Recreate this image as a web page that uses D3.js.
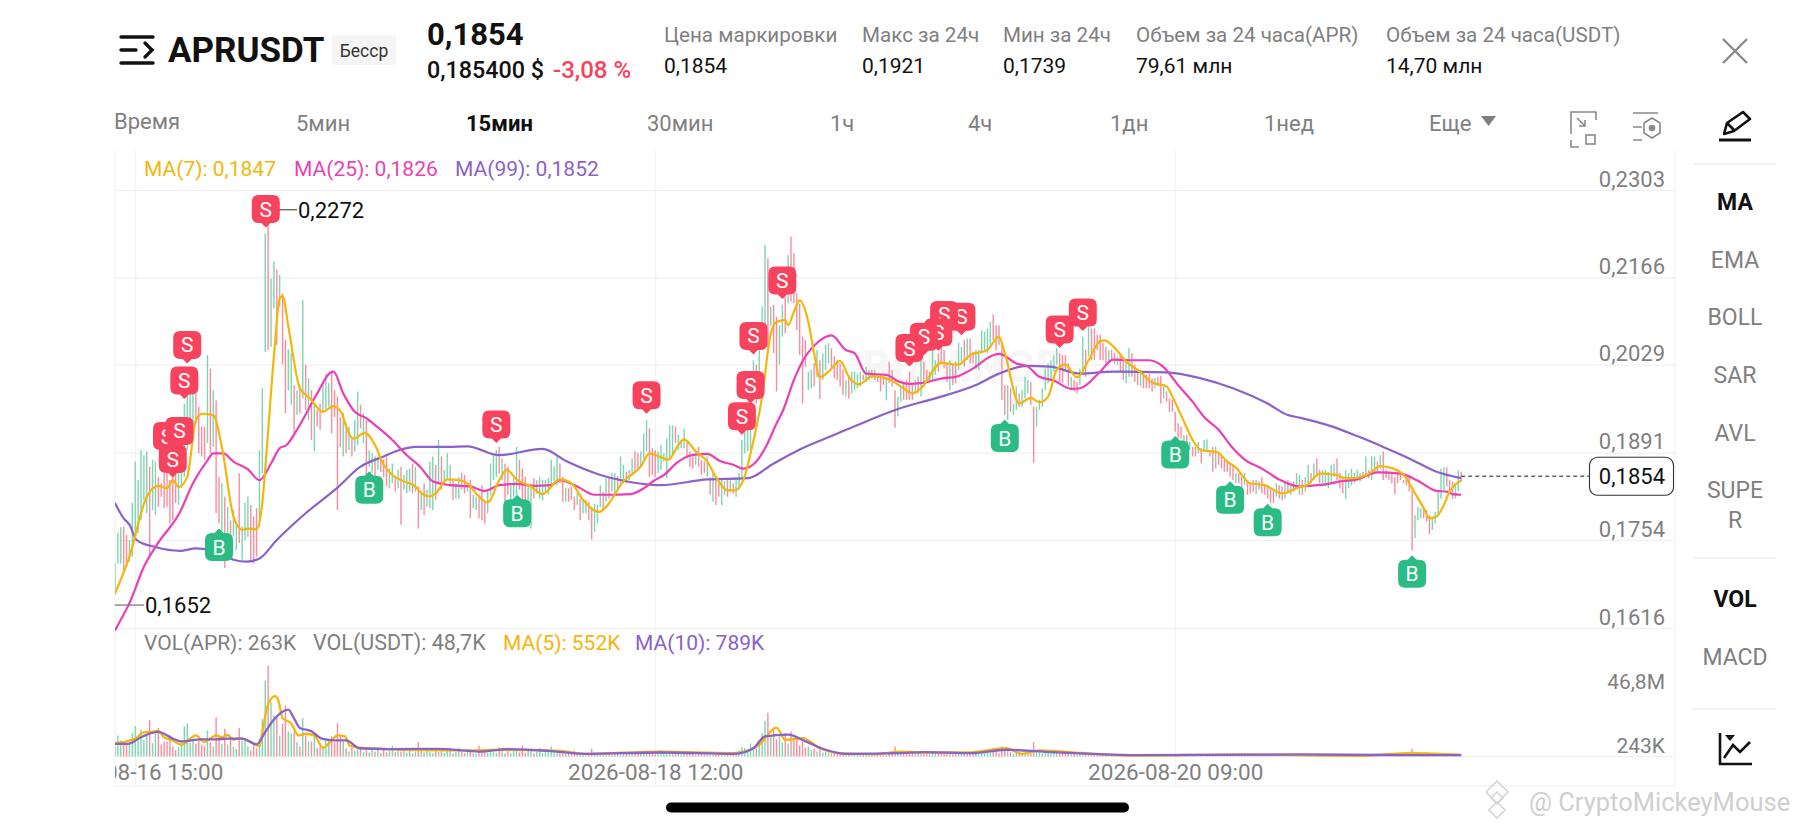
<!DOCTYPE html>
<html>
<head>
<meta charset="utf-8">
<script src="https://cdn.jsdelivr.net/npm/d3@7"></script>
<style>
html, body { margin: 0; padding: 0; background: #fff; overflow: hidden; }
svg { display: block; }
text { font-family: "Roboto", sans-serif; }
</style>
</head>
<body>
<div id="chart"></div>
<script>
// prices are in units of 0.0001, volumes in millions
const priceTicks = [2303, 2166, 2029, 1891, 1754, 1616];
const volumeTicks = [0.243, 46.8];
const volumeTickLabels = ['243K', '46,8M'];
const dateTicks = [7, 187, 367];
const dateLabels = ['2026-08-16 15:00', '2026-08-18 12:00', '2026-08-20 09:00'];

const highs = [
  1718,1765,1774,1775,1762,1754,1812,1877,1848,1895, 1887,1893,1869,1880,1877,1853,1843,1859,1874,1848,
  1853,1864,1869,1885,1968,1981,1989,1984,1984,1963, 1932,1932,2044,2023,1989,1973,1853,1843,1822,1806,
  1785,1801,1780,1859,1775,1812,1822,1809,1791,1804, 1895,1992,2235,2272,2164,2191,2178,2170,2141,2068,
  2053,2047,1997,1989,1995,2130,2029,2008,1989,1968, 1958,1968,2002,2015,2000,2018,1989,1979,1947,1953,
  1937,1932,1916,1942,1987,1966,1953,1942,1895,1890, 1885,1885,1880,1880,1885,1866,1874,1853,1864,1869,
  1856,1864,1866,1874,1869,1838,1830,1843,1833,1877, 1885,1872,1911,1885,1864,1890,1872,1848,1843,1853,
  1859,1856,1843,1848,1825,1822,1825,1840,1814,1833, 1874,1887,1895,1900,1882,1874,1869,1840,1853,1900,
  1880,1866,1853,1840,1843,1851,1848,1853,1848,1848, 1851,1880,1869,1885,1874,1853,1835,1835,1838,1822,
  1827,1819,1819,1817,1814,1806,1811,1809,1840,1830, 1851,1853,1859,1859,1854,1885,1872,1861,1864,1882,
  1893,1890,1893,1921,1942,1929,1898,1895,1893,1903, 1890,1913,1934,1934,1932,1919,1911,1929,1911,1893,
  1890,1890,1900,1880,1877,1885,1853,1859,1848,1843, 1848,1846,1848,1848,1843,1848,1859,1911,1924,1927,
  1937,2036,2029,2052,2120,2217,2196,2120,2123,2104, 2091,2123,2141,2201,2230,2204,2141,2125,2073,2068,
  2018,2021,2031,2052,2036,2047,2060,2063,2055,2042, 2036,2031,2021,2005,2013,2018,2018,2015,2018,2013,
  2026,2021,2021,2021,2013,2013,2013,2010,2034,2021, 1989,1979,1995,2002,2005,2018,2000,2005,2010,2036,
  2034,2021,2018,2052,2036,2047,2057,2052,2031,2036, 2029,2034,2063,2057,2068,2070,2070,2049,2052,2052,
  2083,2081,2086,2096,2108,2091,2091,2063,1997,1997, 1992,1968,1995,1984,1989,2010,2005,2002,1963,1963,
  1974,1992,2023,2031,2036,2044,2055,2047,2044,2044, 2031,2010,2005,2002,2023,2073,2052,2089,2086,2086,
  2076,2076,2063,2057,2052,2052,2047,2042,2044,2036, 2039,2055,2047,2029,2021,2021,2015,2013,2015,2008,
  2008,2010,2011,1995,1987,1976,1974,1955,1937,1932, 1919,1919,1908,1900,1900,1908,1898,1911,1912,1895,
  1900,1900,1890,1885,1880,1877,1874,1872,1859,1859, 1853,1859,1848,1843,1848,1848,1846,1853,1840,1838,
  1835,1830,1843,1840,1838,1846,1848,1843,1846,1859, 1856,1848,1853,1872,1859,1874,1882,1864,1864,1864,
  1861,1872,1874,1882,1859,1853,1864,1859,1866,1859, 1864,1859,1861,1885,1864,1885,1885,1877,1887,1893,
  1864,1861,1859,1853,1865,1861,1848,1851,1853,1832, 1793,1806,1804,1804,1801,1793,1791,1798,1832,1866,
  1868,1868,1848,1846,1843,1863,1861
];
const lows = [
  1668,1717,1717,1707,1712,1720,1728,1759,1765,1785, 1817,1796,1731,1801,1793,1806,1822,1804,1806,1780,
  1785,1812,1809,1835,1853,1895,1937,1932,1937,1890, 1885,1880,1906,1890,1900,1796,1780,1765,1710,1754,
  1744,1760,1738,1749,1723,1754,1759,1723,1717,1728, 1775,1859,2049,2052,2057,2117,2060,2120,2029,1953,
  1989,1966,1921,1950,1953,1976,1958,1942,1911,1893, 1932,1927,1953,1958,1963,1921,1947,1801,1900,1885,
  1890,1895,1885,1893,1903,1929,1906,1853,1869,1859, 1848,1864,1861,1853,1838,1835,1843,1830,1835,1778,
  1833,1827,1830,1827,1830,1772,1801,1793,1806,1804, 1801,1817,1843,1833,1843,1848,1838,1817,1819,1819,
  1833,1827,1830,1788,1804,1801,1788,1785,1780,1796, 1825,1848,1853,1859,1848,1814,1825,1817,1822,1825,
  1833,1817,1814,1785,1772,1819,1827,1819,1816,1827, 1825,1838,1846,1840,1843,1814,1814,1814,1817,1801,
  1809,1785,1796,1796,1785,1755,1767,1780,1806,1801, 1814,1819,1830,1827,1830,1843,1843,1843,1848,1856,
  1859,1866,1869,1882,1893,1853,1856,1853,1859,1864, 1877,1851,1880,1890,1906,1895,1898,1898,1882,1869,
  1866,1872,1869,1856,1859,1853,1825,1814,1809,1822, 1809,1825,1822,1830,1827,1822,1833,1853,1890,1893,
  1895,1989,1968,1995,2052,2089,2047,2090,2047,1987, 2029,2073,2078,2125,2128,2125,2083,2044,1968,2026,
  1989,1992,1995,2010,1975,2005,2021,2031,2023,2008, 2005,1995,1981,1979,1976,1984,1989,1992,1995,2005,
  2002,2005,2008,2005,2002,1987,1997,1973,2000,1995, 1930,1948,1971,1974,1974,1974,1974,1984,1984,1979,
  1995,2000,2002,2005,2013,2018,2031,2023,2002,1989, 1997,2000,2021,2034,2026,2036,2031,2031,2023,2021,
  2047,2052,2047,2057,2068,2052,2060,1974,1950,1942, 1955,1950,1958,1963,1963,1976,1984,1966,1875,1932,
  1958,1963,1989,2000,2005,2018,2029,2002,2000,2021, 1995,1989,1987,1984,1997,2013,2010,2042,2036,2036,
  2052,2036,2036,2031,2031,2036,2031,2029,2018,2005, 2000,2010,2010,2002,1997,1995,1992,1992,1992,1987,
  1992,1995,1968,1976,1971,1955,1955,1924,1913,1913, 1906,1903,1895,1885,1885,1890,1874,1893,1895,1885,
  1861,1866,1872,1866,1861,1861,1853,1848,1843,1843, 1835,1840,1825,1827,1830,1826,1833,1827,1825,1819,
  1812,1812,1822,1819,1816,1819,1827,1825,1830,1835, 1825,1825,1830,1838,1843,1848,1853,1843,1843,1838,
  1835,1843,1853,1848,1835,1827,1818,1835,1840,1843, 1848,1846,1851,1853,1851,1848,1859,1859,1866,1848,
  1851,1848,1843,1826,1843,1848,1843,1840,1830,1738, 1757,1785,1788,1788,1783,1763,1770,1780,1791,1819,
  1832,1838,1830,1818,1819,1830,1846
];
const candleDirs = 'gggrrggggg' + 'ggrggrrrrr' + 'rrggggggrr' + 'rrgrgrrgrg' + 'rggrgggrrr' + 'gggrggrgrr' +
  'ggrgrgrgrg' + 'rrgggrrrrg' + 'rgrggrgrgg' + 'rgrrrggrgr' + 'gggrgrgrgg' + 'grgrgggrgg' + 'rrgrggrrrg' +
  'gggrgrrggg' + 'rrrggrgggg' + 'ggggrrgrrr' + 'grggrrgggr' + 'grggrggrgg' + 'rrgggrrrgg' + 'ggggrgggrr' +
  'rgrrrgrgrr' + 'ggrgrggggg' + 'ggrgggrgrr' + 'ggrgrrrrrr' + 'ggrgrgggrr' + 'rrrgrggggr' + 'ggrgrrrgrr' +
  'rggrrrrgrg' + 'rrgggrrrrg' + 'rrggrgrrgg' + 'ggggrrrrrg' + 'rggrgggrrg' + 'gggggggrrr' + 'rgrrggrgrr' +
  'rrrrgrrgrr' + 'ggrrrgrrrr' + 'grrgrrrrrr' + 'grgrrgrggr' + 'rgrrrrrrgr' + 'rgrrrgrrrr' + 'rrgrrgrgrg' +
  'grggrgrrgg' + 'gggrrrgggg' + 'ggrgrggrgr' + 'rrrrrrrrrr' + 'gggrrrgggg' + 'grrrggr';
const volumes = [
  7.3,15.2,11.6,8.7,9.2,10.4,16.9,22,12.8,19.6, 12.1,15.2,26.6,9.7,16.5,20.6,8.7,10.9,10.9,15.2,
  7.3,4.8,6.8,11.6,21.8,23.7,9.7,12.8,9.2,11.6, 8.5,7.3,18.9,10.4,7.3,28.3,15.2,9.2,20.1,8.7,
  14.5,7.3,5.6,20.6,11.6,11.6,7.3,4.4,8,6, 12.8,27.3,55.2,66,39.4,29.8,28.6,15.2,23.7,37,
  18.2,16.9,17.7,10.4,7.3,27.8,15.2,10.9,10.9,15.2, 6,7.3,7.3,12.8,12.8,14.5,10.4,24.2,14.5,11.6,
  5.8,3.6,6.6,4.4,7.3,6.2,3.3,5.1,2.9,4.7, 3.6,6,2.6,5.2,3.1,4.3,7.8,3.2,5.4,3.5,
  4.2,2.8,5,2.2,3.6,10.5,4.4,3,6.1,3.7, 2.4,4.8,3.3,5.9,2.7,3.9,4.6,2.2,3.5,6.4,
  3.1,2.5,4.4,5.6,2.3,2,7.8,3,4.6,2.8, 5.4,3.2,2.7,6.6,4.1,2.2,3.9,2.4,5.2,6,
  3,7.8,2.9,5.2,4.4,2.4,3.4,6.1,2.6,3.8, 4.2,7.3,3.1,2.4,4.9,3,2.2,3.6,1.9,4.2,
  2.1,1.6,2.7,1.9,2.3,5.6,2.8,1.7,1.4,2.5, 1.8,2.2,1.5,2.9,2.4,1.6,3.1,2,1.7,2.6,
  2.3,3.4,1.8,4.1,2.7,3.2,2.1,1.6,2.4,4.5, 2.9,3.5,2.2,1.8,3,2.4,1.5,2.6,2,1.7,
  2.2,1.4,2.6,1.8,1.6,2.3,1.5,2.1,2.7,1.9, 1.6,2.4,2,1.3,2.2,3.4,4.8,7,6.2,5,
  9.5,7.3,5.8,12,17,26,31.7,15,21,12.5, 14.6,10.2,17,9.5,18,12,14,8,11,6.5,
  7.3,4.5,5.8,3.6,5,2.9,3.3,2.6,2.2,3.4, 2,2.7,1.8,1.5,2.4,1.9,1.6,2.2,1.4,1.7,
  1.5,2,1.3,1.8,1.6,2.1,1.4,1.2,2.9,1.8, 7.3,2.4,1.9,2.6,1.8,3.2,2.1,1.7,3.6,2.4,
  1.9,2.8,1.5,3.4,2.2,2.7,3.6,2.9,1.8,2.4, 1.7,2.1,3.5,2.6,3.1,2.4,2.9,1.9,2.3,1.6,
  3.1,2.2,2.8,3.9,4.5,3.3,2.4,7.3,5.9,4.6, 3.2,2.1,3,2.4,1.9,2.8,2,2.6,10.5,5,
  3.4,2.2,3.6,2.7,2.3,3,3.5,2.1,2.9,1.8, 2.4,1.6,1.9,1.4,2.6,3.6,2,2.8,1.7,2.2,
  1.5,1.8,1.2,1.4,1.6,1.1,1.3,0.9,1.5,1.2, 1.4,1.7,1,0.9,1.2,0.8,1,1.1,0.9,0.8,
  1,0.7,1.4,0.9,0.8,1,0.9,1.6,1.1,0.8, 1,0.7,0.9,1.2,0.8,1.1,1.3,0.9,0.7,0.8,
  1.5,1.1,0.8,0.7,1,0.9,0.8,1.1,0.7,0.9, 0.8,1,1.2,0.7,0.9,0.8,1,1.1,0.7,0.8,
  1,0.9,0.7,0.8,1.2,0.9,0.7,1,0.8,0.9, 1.1,0.7,1,0.8,0.7,1,1.3,0.8,0.7,0.9,
  0.8,0.7,1,1.2,0.9,0.7,1,0.8,0.7,0.6, 0.7,0.6,0.9,0.8,0.7,0.9,0.8,0.6,0.8,1.2,
  0.8,0.7,0.6,0.9,0.7,0.6,0.8,0.7,1.1,5.6, 1.9,1.2,0.9,0.7,1,1.3,0.8,1,1.4,1.8,
  1.3,1,0.8,1.1,0.7,0.6,0.25
];

// moving averages as [candle, value]
const ma7 = [[0,1670],[5,1728],[11,1822],[15,1839],[18,1835],[20,1848],[22,1837],[25,1853],[28,1942],[30,1952],[34,1950],[37,1900],[41,1791],[44,1770],[46,1772],[49,1771],[51,1812],[52.5,1895],[55,2042],[57,2133],[58,2137],[60,2089],[64,1992],[67.5,1976],[72,1955],[75.6,1964],[78.5,1953],[80,1932],[82.5,1913],[86.5,1922],[90,1903],[93,1872],[96,1856],[100,1846],[104,1838],[105.5,1830],[109,1822],[111,1827],[115,1849],[119,1848],[122,1843],[125,1827],[129,1813],[133,1848],[135.6,1864],[139,1849],[144,1838],[148,1826],[154,1849],[158,1843],[162,1817],[167.5,1798],[170,1806],[176,1846],[182,1869],[185,1890],[190,1882],[191.5,1880],[195,1903],[197,1912],[201,1893],[205,1877],[208,1853],[212,1832],[214.5,1832],[217.5,1848],[220,1890],[224,1979],[227,2078],[229,2096],[232,2099],[233,2091],[235,2112],[237,2130],[240,2096],[242,2047],[244,2009],[247,2018],[251,2035],[254,2010],[257.5,1998],[262,2011],[268,2006],[272,1995],[276,1984],[279,1992],[286,2032],[292,2029],[296,2044],[302,2052],[306,2073],[308,2047],[313,1968],[317,1977],[320,1970],[323,1979],[326,2021],[329,2029],[333,2009],[337,2036],[341,2066],[342.5,2067],[346.7,2052],[350,2034],[354.8,2018],[359,2001],[364,1995],[366,1979],[369.8,1942],[373,1911],[376,1895],[381.5,1892],[385,1877],[387.7,1869],[393,1843],[398,1840],[404,1827],[410,1837],[412.5,1840],[417,1858],[423,1856],[425,1852],[428.6,1851],[434,1858],[438,1870],[442.5,1866],[447,1851],[449.4,1832],[453,1804],[455,1788],[457.5,1791],[460,1809],[462,1830],[464.4,1843],[466,1847]];
const ma25 = [[0,1612],[2,1629],[5,1655],[10,1712],[14.4,1746],[22.5,1798],[27,1843],[32,1879],[34,1890],[37.5,1890],[41,1877],[46,1865],[50,1848],[54,1874],[57,1898],[59.4,1903],[63,1927],[70,1984],[74.4,2016],[75.6,2018],[79,1984],[83,1955],[87,1945],[90.6,1932],[96,1911],[101,1887],[105.6,1869],[110,1846],[116,1840],[123,1838],[128,1831],[133,1840],[139,1842],[145,1839],[151,1840],[154,1848],[160,1838],[166,1825],[170.5,1825],[178.5,1826],[183,1835],[186.5,1847],[190,1856],[195,1877],[199.5,1887],[205,1889],[209.4,1878],[214,1872],[217.5,1866],[222,1877],[225.6,1903],[228.5,1932],[231.3,1958],[235,2005],[238.2,2036],[243,2063],[248,2075],[253,2052],[256,2047],[260,2015],[267,2013],[271.6,2002],[275,1999],[279,2000],[287,2008],[291,2010],[297,2023],[303,2042],[306,2046],[312,2031],[316,2026],[320,2010],[325,2004],[331,1991],[334,1992],[341,2018],[345.5,2037],[351,2036],[358,2036],[362.8,2026],[368,1997],[373,1971],[377,1947],[382,1927],[386.6,1900],[391.4,1879],[397,1866],[403,1849],[410,1838],[413.7,1839],[420,1842],[424,1846],[430,1849],[437,1860],[445,1858],[451,1847],[457.5,1831],[461,1830],[463,1826],[466,1825]];
const ma99 = [[0,1812],[3,1788],[5,1778],[7.5,1754],[14,1743],[22.5,1737],[28,1741],[35,1736],[41,1723],[45.5,1720],[50,1725],[56,1754],[66,1796],[76.7,1835],[85,1869],[93,1885],[99,1896],[104,1900],[115,1900],[122,1901],[133,1887],[148,1897],[156.5,1877],[168,1856],[176,1847],[188.6,1840],[205,1849],[219,1851],[228,1874],[237,1896],[249,1919],[260,1940],[272,1961],[283,1975],[298,1997],[306,2015],[315.5,2027],[323.6,2026],[334,2015],[345.6,2018],[364,2017],[375.6,2008],[387,1992],[399,1968],[406,1950],[410,1946],[420.6,1933],[430,1917],[439,1900],[448,1882],[457.5,1861],[466,1851]];
const volMa5 = [[0,9.7],[4,11],[7,12.9],[10,17.5],[12,17.8],[15,18.5],[17,14],[20,11.7],[23,8.5],[26,12.9],[28,15.3],[31,10.5],[35,15.3],[37,14],[39,15.6],[41,12],[43,13.4],[46,11.7],[50,7.5],[51,17.8],[53,38],[55.4,43.8],[56.5,41],[58,28],[61,24],[63.5,15.3],[66,16.5],[69,15.3],[72,6.3],[75,11.7],[77,15.3],[79.6,14.6],[81.3,7.8],[86.6,6],[118,4.4],[136,4.9],[154,4.1],[162.6,1.9],[189,3.6],[214,2.4],[222.6,7.8],[229,21],[232,12],[238,13.4],[244,6],[251,2.4],[263,1.7],[272,3.6],[280,2.9],[295,2.9],[308.5,6],[314,1.9],[320,4.4],[336,2.4],[350,0.7],[390,1.5],[430,0.5],[449,2.4],[466,1.2]];
const volMa10 = [[0,9.2],[4.6,9.2],[9,14],[15,17.8],[20,13],[23,11],[30,12.4],[35,12.4],[39,13],[44,13],[49,8.8],[52,17.8],[55,26.8],[60,34],[62,27.5],[64,20.7],[68,18.3],[71.5,13],[76,11.7],[80,11.7],[84.7,6],[94,5.4],[112,5.6],[126,3.6],[136,5.4],[150,4.1],[162.6,1.9],[189,2.9],[214,1.9],[221,6],[225,14.6],[233,15.8],[239,11],[246,4.9],[253,1.9],[272,2.4],[280,3.2],[297,2.4],[308.5,4.9],[322,3.4],[338,1.9],[354,1],[410,1.5],[447,1],[466,1]];

// buy and sell flags: candle and the price the tip points at
const sellFlags = [[25,2031],[24,1975],[20,1852],[18,1888],[22.3,1896],[52.2,2244],[132,1906],[184,1952],[217,1919],[220,1968],[221,2045],[231,2132],[293,2075],[287,2078],[285,2051],[280,2044],[275,2026],[327,2055],[335,2082]];
const buyFlags = [[36,1772],[88,1862],[139.2,1825],[308,1943],[367,1917],[386,1846],[399,1811],[449,1730]];

const lastPrice = 1854;
const highLabel = { candle: 52.2, price: 2272, text: '0,2272' };
const lowLabel = { price: 1652, text: '0,1652' };

const statLabels = ['Цена маркировки', 'Макс за 24ч', 'Мин за 24ч', 'Объем за 24 часа(APR)', 'Объем за 24 часа(USDT)'];
const statValues = ['0,1854', '0,1921', '0,1739', '79,61 млн', '14,70 млн'];
const statX = [664, 862, 1003, 1136, 1386];
const intervals = ['Время', '5мин', '15мин', '30мин', '1ч', '4ч', '1дн', '1нед', 'Еще'];
const intervalX = [114, 296, 466, 647, 830, 968, 1110, 1264, 1429];
const sideItems = ['MA', 'EMA', 'BOLL', 'SAR', 'AVL', 'SUPE', 'R', 'VOL', 'MACD'];
const sideY = [210, 268, 325, 383, 441, 498, 528, 607, 665];

const width = 1795, height = 828;
const left = 115, right = 1675;
const GREEN = '#7fd4b1', RED = '#f98d9e';
const YELLOW = '#f3b60a', PINK = '#eb3fb4', PURPLE = '#8a62c8';
const FLAG_RED = '#f7435d', FLAG_GREEN = '#2bbc86';

const svg = d3.select('#chart').append('svg')
    .attr('width', width)
    .attr('height', height);

const x = d3.scaleLinear().domain([0, 180]).range([left, left + 520]);
const y = d3.scaleLinear().domain([1616, 2303]).range([628, 190]);
const yVol = d3.scaleLinear().domain([0, 46.8]).range([756.5, 692]);

svg.append('defs').append('clipPath').attr('id', 'plot')
    .append('rect').attr('x', left).attr('y', 150).attr('width', right - left).attr('height', 640);

const gridColor = '#f0f0f0';
const tickColor = '#7f7f7f';

// frame
svg.append('g').selectAll('line')
    .data([left, right])
    .join('line')
    .attr('x1', d => d).attr('x2', d => d)
    .attr('y1', 150).attr('y2', 786)
    .attr('stroke', gridColor);
svg.append('line').attr('x1', left).attr('x2', right).attr('y1', 786).attr('y2', 786).attr('stroke', gridColor);

// price axis, labels sit above the grid lines
const priceAxis = svg.append('g')
    .attr('transform', `translate(${right},0)`)
    .call(d3.axisLeft(y).tickValues(priceTicks).tickSize(right - left).tickPadding(10)
        .tickFormat(d => '0,' + d));
priceAxis.select('.domain').remove();
priceAxis.selectAll('line').attr('stroke', gridColor).attr('stroke-width', 1.2);
priceAxis.selectAll('text')
    .attr('x', -10).attr('y', -4).attr('dy', 0)
    .attr('font-size', 22).attr('fill', tickColor)
    .style('font-family', 'Roboto');

const volAxis = svg.append('g')
    .attr('transform', `translate(${right},0)`)
    .call(d3.axisLeft(yVol).tickValues(volumeTicks).tickSize(0)
        .tickFormat((d, i) => volumeTickLabels[i]));
volAxis.select('.domain').remove();
volAxis.selectAll('text')
    .attr('x', -10).attr('y', -4).attr('dy', 0)
    .attr('font-size', 21).attr('fill', tickColor)
    .style('font-family', 'Roboto');
svg.append('line').attr('x1', left).attr('x2', right).attr('y1', 756.5).attr('y2', 756.5).attr('stroke', gridColor);

// date axis with the vertical grid
const dateAxis = svg.append('g')
    .attr('transform', 'translate(0,786)')
    .attr('clip-path', 'url(#dateClip)')
    .call(d3.axisBottom(x).tickValues(dateTicks).tickSize(-636).tickPadding(0)
        .tickFormat((d, i) => dateLabels[i]));
dateAxis.select('.domain').remove();
dateAxis.selectAll('line').attr('stroke', gridColor);
dateAxis.selectAll('text')
    .attr('y', -6).attr('dy', 0)
    .attr('font-size', 22.5).attr('fill', tickColor)
    .style('font-family', 'Roboto');
svg.select('defs').append('clipPath').attr('id', 'dateClip')
    .append('rect').attr('x', left).attr('y', -640).attr('width', right - left).attr('height', 660);

// faint watermark behind the candles
svg.append('text').attr('x', 862).attr('y', 382)
    .attr('font-size', 44).attr('font-weight', 700).attr('fill', '#f6f6f6')
    .attr('letter-spacing', 2).text('BINANCE');

const plot = svg.append('g').attr('clip-path', 'url(#plot)');

const candles = highs.map((h, i) => ({ i, high: h, low: lows[i], dir: candleDirs[i], vol: volumes[i] }));

plot.append('g').selectAll('rect')
    .data(candles)
    .join('rect')
    .attr('x', d => x(d.i) - 0.7)
    .attr('width', 1.4)
    .attr('y', d => y(d.high))
    .attr('height', d => y(d.low) - y(d.high))
    .attr('fill', d => d.dir === 'g' ? GREEN : RED);

plot.append('g').selectAll('rect')
    .data(candles)
    .join('rect')
    .attr('x', d => x(d.i) - 0.7)
    .attr('width', 1.4)
    .attr('y', d => yVol(d.vol))
    .attr('height', d => yVol(0) - yVol(d.vol))
    .attr('fill', d => d.dir === 'g' ? GREEN : RED);

const priceLine = d3.line().x(d => x(d[0])).y(d => y(d[1])).curve(d3.curveMonotoneX);
const volLine = d3.line().x(d => x(d[0])).y(d => yVol(d[1])).curve(d3.curveMonotoneX);

[[ma99, PURPLE], [ma25, PINK], [ma7, YELLOW]].forEach(([data, color]) => {
    plot.append('path').datum(data)
        .attr('d', priceLine)
        .attr('fill', 'none')
        .attr('stroke', color)
        .attr('stroke-width', 2.2);
});
[[volMa5, YELLOW], [volMa10, PURPLE]].forEach(([data, color]) => {
    plot.append('path').datum(data)
        .attr('d', volLine)
        .attr('fill', 'none')
        .attr('stroke', color)
        .attr('stroke-width', 2.3);
});

// last price line and box
const lastY = y(lastPrice);
svg.append('line')
    .attr('x1', x(candles.length - 1)).attr('x2', 1589)
    .attr('y1', lastY).attr('y2', lastY)
    .attr('stroke', '#666').attr('stroke-width', 1.5).attr('stroke-dasharray', '4 3');
svg.append('rect')
    .attr('x', 1589.5).attr('y', lastY - 19).attr('width', 84).attr('height', 38).attr('rx', 8)
    .attr('fill', '#fff').attr('stroke', '#333').attr('stroke-width', 1.1);
svg.append('text').attr('x', 1665).attr('y', lastY + 8)
    .attr('text-anchor', 'end').attr('font-size', 22).attr('fill', '#111').text('0,1854');

// high and low labels
svg.append('line')
    .attr('x1', x(highLabel.candle)).attr('x2', 297)
    .attr('y1', y(highLabel.price)).attr('y2', y(highLabel.price))
    .attr('stroke', '#444').attr('stroke-width', 1.1);
svg.append('text').attr('x', 298).attr('y', y(highLabel.price) + 8)
    .attr('font-size', 22).attr('fill', '#111').text(highLabel.text);
svg.append('line')
    .attr('x1', left).attr('x2', 144)
    .attr('y1', y(lowLabel.price)).attr('y2', y(lowLabel.price))
    .attr('stroke', '#666').attr('stroke-width', 1.1);
svg.append('text').attr('x', 145).attr('y', y(lowLabel.price) + 8)
    .attr('font-size', 22).attr('fill', '#111').text(lowLabel.text);

// flags
function drawFlag(g, color, label, sell) {
    const s = 14, r = 7, t = 4.5;
    const path = sell
        ? `M${-s + r},${-s}H${s - r}Q${s},${-s} ${s},${-s + r}V${s - r}Q${s},${s} ${s - r},${s}H${t}L0,${s + t}L${-t},${s}H${-s + r}Q${-s},${s} ${-s},${s - r}V${-s + r}Q${-s},${-s} ${-s + r},${-s}Z`
        : `M${-s + r},${-s}H${-t}L0,${-s - t}L${t},${-s}H${s - r}Q${s},${-s} ${s},${-s + r}V${s - r}Q${s},${s} ${s - r},${s}H${-s + r}Q${-s},${s} ${-s},${s - r}V${-s + r}Q${-s},${-s} ${-s + r},${-s}Z`;
    g.append('path').attr('d', path).attr('fill', color);
    g.append('text').attr('text-anchor', 'middle').attr('y', 7.5)
        .attr('font-size', 21).attr('fill', '#fff').text(label);
}
sellFlags.forEach(([c, p]) => {
    const g = svg.append('g').attr('transform', `translate(${x(c)},${y(p) - 18.5})`);
    drawFlag(g, FLAG_RED, 'S', true);
});
buyFlags.forEach(([c, p]) => {
    const g = svg.append('g').attr('transform', `translate(${x(c)},${y(p) + 18.5})`);
    drawFlag(g, FLAG_GREEN, 'B', false);
});

// legends
const legend = (xp, yp, color, str, size) => svg.append('text')
    .attr('x', xp).attr('y', yp).attr('font-size', size).attr('fill', color).text(str);
legend(144, 176, YELLOW, 'MA(7): 0,1847', 21);
legend(294, 176, PINK, 'MA(25): 0,1826', 21);
legend(455, 176, PURPLE, 'MA(99): 0,1852', 21);
legend(144, 650, tickColor, 'VOL(APR): 263K', 21);
legend(313, 650, tickColor, 'VOL(USDT): 48,7K', 21.5);
legend(503, 650, YELLOW, 'MA(5): 552K', 21);
legend(635, 650, PURPLE, 'MA(10): 789K', 21);

// header
const menu = svg.append('g').attr('stroke', '#111').attr('stroke-width', 3.4)
    .attr('stroke-linecap', 'round').attr('fill', 'none');
menu.append('path').attr('d', 'M121,37H153M121,50H136M121,63H153M145,43L152,50L145,57');
svg.append('text').attr('x', 168).attr('y', 62).attr('font-size', 35).attr('font-weight', 700)
    .attr('fill', '#111').text('APRUSDT');
svg.append('rect').attr('x', 332).attr('y', 35).attr('width', 64).attr('height', 30).attr('rx', 3).attr('fill', '#f5f5f5');
svg.append('text').attr('x', 364).attr('y', 57).attr('text-anchor', 'middle').attr('font-size', 17.5)
    .attr('fill', '#333').text('Бесср');
svg.append('text').attr('x', 427).attr('y', 45).attr('font-size', 31).attr('font-weight', 700)
    .attr('fill', '#111').text('0,1854');
svg.append('text').attr('x', 427).attr('y', 78).attr('font-size', 23.3).attr('font-weight', 500)
    .attr('fill', '#111').text('0,185400 $');
svg.append('text').attr('x', 553).attr('y', 78).attr('font-size', 24).attr('font-weight', 500)
    .attr('fill', '#f7435d').text('-3,08 %');

svg.append('g').selectAll('text').data(statLabels).join('text')
    .attr('x', (d, i) => statX[i]).attr('y', 42).attr('font-size', 20.6).attr('fill', '#808080').text(d => d);
svg.append('g').selectAll('text').data(statValues).join('text')
    .attr('x', (d, i) => statX[i]).attr('y', 73).attr('font-size', 21).attr('fill', '#111').text(d => d);

svg.append('g').selectAll('text').data(intervals).join('text')
    .attr('x', (d, i) => intervalX[i]).attr('y', d => d === 'Время' ? 129 : 131)
    .attr('font-size', 22)
    .attr('font-weight', d => d === '15мин' ? 700 : 400)
    .attr('fill', d => d === '15мин' ? '#111' : '#808080')
    .text(d => d);
svg.append('path').attr('d', 'M1481,116H1496L1488.5,126Z').attr('fill', '#808080');

// toolbar icons
const icons = svg.append('g').attr('fill', 'none').attr('stroke', '#8a8a8a').attr('stroke-width', 1.6);
icons.append('path').attr('d', 'M1571,134V112H1596V120M1571,140V147H1579M1577,118L1585,126M1585,120V126H1579');
icons.append('rect').attr('x', 1586).attr('y', 135).attr('width', 9).attr('height', 9);
icons.append('path').attr('d', 'M1633,113H1658M1633,127H1642M1633,140H1642');
icons.append('path').attr('d', 'M1652,118L1660,123V133L1652,138L1644,133V123Z');
icons.append('circle').attr('cx', 1652).attr('cy', 128).attr('r', 2.5).attr('fill', '#8a8a8a');

// close cross and pencil
svg.append('path').attr('d', 'M1723,39L1747,63M1747,39L1723,63')
    .attr('stroke', '#8a8a8a').attr('stroke-width', 2.4).attr('fill', 'none');
svg.append('path').attr('d', 'M1724,134L1727,123L1743,112L1750,119L1734,131Z M1727,123L1735,131')
    .attr('stroke', '#111').attr('stroke-width', 2.6).attr('fill', 'none').attr('stroke-linejoin', 'round');
svg.append('line').attr('x1', 1719).attr('x2', 1751).attr('y1', 140).attr('y2', 140)
    .attr('stroke', '#111').attr('stroke-width', 3);

// side menu
svg.append('g').selectAll('text').data(sideItems).join('text')
    .attr('x', 1735).attr('y', (d, i) => sideY[i])
    .attr('text-anchor', 'middle').attr('font-size', 23)
    .attr('font-weight', d => d === 'MA' || d === 'VOL' ? 700 : 400)
    .attr('fill', d => d === 'MA' || d === 'VOL' ? '#111' : '#808080')
    .text(d => d);
svg.append('g').selectAll('line')
    .data([[1693, 1776, 164], [1693, 1776, 558], [1693, 1776, 709]])
    .join('line')
    .attr('x1', d => d[0]).attr('x2', d => d[1]).attr('y1', d => d[2]).attr('y2', d => d[2])
    .attr('stroke', '#eeeeee').attr('stroke-width', 1.6);
const chartIcon = svg.append('g').attr('fill', 'none').attr('stroke', '#111').attr('stroke-width', 2.6);
chartIcon.append('path').attr('d', 'M1720,733V764H1752M1724,758L1733,745L1740,752L1750,742');
svg.append('path').attr('d', 'M1725,735H1735L1730,741Z').attr('fill', '#111');

// home bar and corner mark
svg.append('rect').attr('x', 666).attr('y', 802.5).attr('width', 463).attr('height', 10).attr('rx', 5).attr('fill', '#000');
svg.append('text').attr('x', 1529).attr('y', 811).attr('font-size', 25.5).attr('fill', '#cfcfcf').text('@ CryptoMickeyMouse');
svg.append('path').attr('d', 'M1497,781L1508,792L1497,803L1486,792Z M1497,792L1503,798L1497,804L1491,798Z M1497,802L1505,810L1497,818L1489,810Z')
    .attr('fill', 'none').attr('stroke', '#d6d6d6').attr('stroke-width', 1.6);
</script>
</body>
</html>
